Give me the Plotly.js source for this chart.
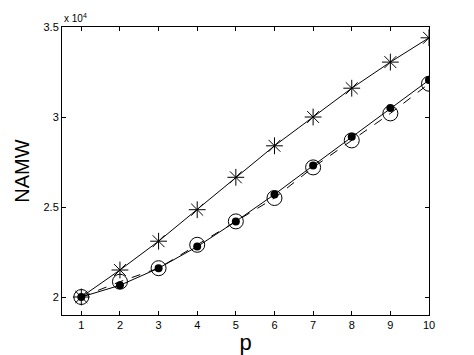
<!DOCTYPE html>
<html>
<head>
<meta charset="utf-8">
<script src="https://cdn.plot.ly/plotly-3.0.1.min.js"></script>
<style>html,body{margin:0;padding:0;background:#fff;}#chart{width:474px;height:355px;}</style>
</head>
<body>
<div id="chart"></div>
<script>
const p = [1, 2, 3, 4, 5, 6, 7, 8, 9, 10];
const starSeries = [20000, 21500, 23100, 24850, 26650, 28400, 30000, 31600, 33050, 34400];
const dotSeries = [20000, 20650, 21600, 22800, 24200, 25700, 27300, 28900, 30500, 32050];
const circleSeries = [20000, 20850, 21600, 22900, 24200, 25500, 27200, 28700, 30200, 31850];
const yTickVals = [20000, 25000, 30000, 35000];
const yTickText = ['2', '2.5', '3', '3.5'];
const xTickVals = [1, 2, 3, 4, 5, 6, 7, 8, 9, 10];

const fnt = 'Liberation Sans, Arial, Helvetica, sans-serif';

const traces = [
  {
    x: p, y: circleSeries, mode: 'lines+markers', type: 'scatter',
    line: {color: '#000', width: 1, dash: 'dash'},
    marker: {symbol: 'circle-open', size: 15, color: '#000', line: {width: 1, color: '#000'}},
    hoverinfo: 'none'
  },
  {
    x: p, y: dotSeries, mode: 'lines+markers', type: 'scatter',
    line: {color: '#000', width: 1},
    marker: {symbol: 'circle', size: 8, color: '#000'},
    hoverinfo: 'none'
  },
  {
    x: p, y: starSeries, mode: 'lines+markers', type: 'scatter',
    line: {color: '#000', width: 1},
    marker: {symbol: 'asterisk-open', size: 14, color: '#000', line: {width: 1, color: '#000'}},
    hoverinfo: 'none'
  }
];

const layout = {
  width: 474, height: 355,
  margin: {l: 62, r: 45, t: 27, b: 40},
  paper_bgcolor: '#fff', plot_bgcolor: '#fff',
  showlegend: false,
  font: {family: fnt, color: '#000', size: 11},
  xaxis: {
    range: [0.5, 10], tickvals: xTickVals, ticks: 'inside', ticklen: 4,
    tickcolor: '#000', showline: true, linecolor: '#000', linewidth: 1,
    mirror: 'ticks', showgrid: false, zeroline: false,
    tickfont: {size: 11, family: fnt},
    title: {text: 'p', font: {size: 22, family: fnt}, standoff: 7}
  },
  yaxis: {
    range: [19000, 35000], tickvals: yTickVals, ticktext: yTickText,
    ticks: 'inside', ticklen: 4, tickcolor: '#000',
    showline: true, linecolor: '#000', linewidth: 1, mirror: 'ticks',
    showgrid: false, zeroline: false,
    tickfont: {size: 11, family: fnt},
    title: {text: 'NAMW', font: {size: 20, family: fnt}, standoff: 8}
  },
  annotations: [{
    xref: 'paper', yref: 'paper', x: 0, y: 1, xanchor: 'left', yanchor: 'bottom',
    text: 'x 10<sup>4</sup>', showarrow: false, font: {size: 10, family: fnt}, yshift: 1
  }]
};

Plotly.newPlot('chart', traces, layout, {staticPlot: true, displayModeBar: false});
</script>
</body>
</html>
